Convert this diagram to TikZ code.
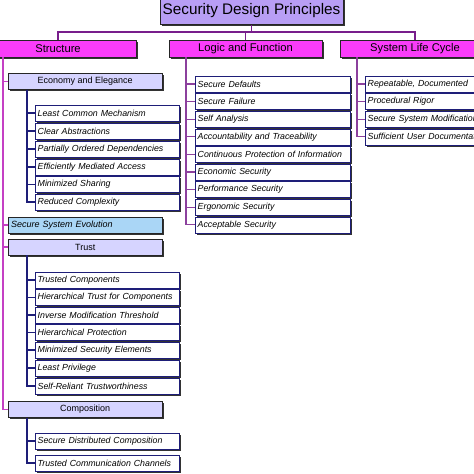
\documentclass[tikz,border=0pt]{standalone}
\usepackage{fontspec}
\setmainfont{Liberation Sans}
\usetikzlibrary{shadows}
\definecolor{titlefill}{RGB}{184,158,245}
\definecolor{groupfill}{RGB}{250,60,250}
\definecolor{subfill}{RGB}{214,212,255}
\definecolor{evofill}{RGB}{170,214,246}
\definecolor{busline}{RGB}{120,30,140}
\definecolor{trunkline}{RGB}{196,64,196}
\definecolor{subline}{RGB}{30,30,120}

\begin{document}
\begin{tikzpicture}[x=1pt,y=-1pt,
  shd/.style={drop shadow={shadow xshift=1.8pt,shadow yshift=-1.8pt,
    fill=black!80,opacity=1}},
  title/.style={draw=black!85,fill=titlefill,shd,minimum width=183pt,
    minimum height=27pt,inner sep=0pt,font=\fontsize{15.3}{17}\selectfont},
  group/.style={draw=black!85,fill=groupfill,shd,minimum height=17pt,
    inner sep=0pt,font=\fontsize{11.2}{13}\selectfont},
  sub/.style={draw=black!85,fill=subfill,shd,anchor=west,minimum width=154pt,
    minimum height=16pt,inner sep=0pt,font=\fontsize{9}{10}\selectfont},
  evo/.style={sub,fill=evofill,text width=148pt,inner xsep=3pt,align=left,
    font=\fontsize{9}{10}\selectfont\itshape},
  item/.style={draw=subline,fill=white,shd,anchor=west,minimum height=16pt,
    inner xsep=2.5pt,inner ysep=0pt,align=left,
    font=\fontsize{8.8}{10}\selectfont\itshape},
  bus/.style={draw=busline,line width=1.5pt},
  trunk/.style={draw=trunkline,line width=1.6pt},
  branch/.style={draw=busline!85,line width=1.3pt},
  leafline/.style={draw=subline,line width=1.1pt}]
\useasboundingbox (0,0) rectangle (474,474);
\clip (0,0) rectangle (474,474);

% top and groups
\node[title] (top) at (251.5,11) {Security Design Principles};
\node[group,minimum width=156pt] (struct) at (58,48.5) {Structure};
\node[group,minimum width=153pt] (logic) at (245.5,48.5) {Logic and Function};
\node[group,minimum width=150pt] (life) at (415,48.5) {System Life Cycle};
\coordinate (bus) at (0,32);
\draw[bus] (top.south) -- (top.south |- bus);
\draw[bus] (struct.north) |- (top.south |- bus);
\draw[bus] (life.north) |- (top.south |- bus);
\draw[bus] (logic.north) -- (logic.north |- bus);

% structure
\node[sub] (eco) at (8,81.5) {Economy and Elegance};
\node[evo,anchor=west] (evo) at (8,225) {Secure System Evolution};
\node[sub] (trust) at (8,247) {Trust};
\node[sub] (comp) at (8,409.5) {Composition};
\coordinate (sT) at (3,57);
\draw[trunk] (sT) |- (eco.west);
\draw[trunk] (sT) |- (evo.west);
\draw[trunk] (sT) |- (trust.west);
\draw[trunk] (sT) |- (comp.west);

\node[item,text width=139pt] (e1) at (35,113) {Least Common Mechanism};
\node[item,text width=139pt] (e2) at (35,131) {Clear Abstractions};
\node[item,text width=139pt] (e3) at (35,149) {Partially Ordered Dependencies};
\node[item,text width=139pt] (e4) at (35,167) {Efficiently Mediated Access};
\node[item,text width=139pt] (e5) at (35,184.5) {Minimized Sharing};
\node[item,text width=139pt] (e6) at (35,202) {Reduced Complexity};
\coordinate (ecoT) at (27,89.5);
\foreach \n in {e1,e2,e3,e4,e5,e6}
  \draw[leafline] (ecoT) |- (\n.west);

\node[item,text width=139pt] (t1) at (35,280) {Trusted Components};
\node[item,text width=139pt] (t2) at (35,297.5) {Hierarchical Trust for Components};
\node[item,text width=139pt] (t3) at (35,315) {Inverse Modification Threshold};
\node[item,text width=139pt] (t4) at (35,332.5) {Hierarchical Protection};
\node[item,text width=139pt] (t5) at (35,350) {Minimized Security Elements};
\node[item,text width=139pt] (t6) at (35,368) {Least Privilege};
\node[item,text width=139pt] (t7) at (35,386) {Self-Reliant Trustworthiness};
\coordinate (trustT) at (27,255);
\foreach \n in {t1,t2,t3,t4,t5,t6,t7}
  \draw[leafline] (trustT) |- (\n.west);

\node[item,text width=139pt] (c1) at (35,441) {Secure Distributed Composition};
\node[item,text width=139pt] (c2) at (35,463) {Trusted Communication Channels};
\coordinate (compT) at (27,417.5);
\foreach \n in {c1,c2}
  \draw[leafline] (compT) |- (\n.west);

% logic and function
\node[item,text width=150pt] (l1) at (195,84) {Secure Defaults};
\node[item,text width=150pt] (l2) at (195,101.6) {Secure Failure};
\node[item,text width=150pt] (l3) at (195,119.2) {Self Analysis};
\node[item,text width=150pt] (l4) at (195,136.8) {Accountability and Traceability};
\node[item,text width=150pt] (l5) at (195,154.4) {Continuous Protection of Information};
\node[item,text width=150pt] (l6) at (195,172) {Economic Security};
\node[item,text width=150pt] (l7) at (195,189.6) {Performance Security};
\node[item,text width=150pt] (l8) at (195,207.2) {Ergonomic Security};
\node[item,text width=150pt] (l9) at (195,224.8) {Acceptable Security};
\coordinate (logicT) at (186,57);
\foreach \n in {l1,l2,l3,l4,l5,l6,l7,l8,l9}
  \draw[branch] (logicT) |- (\n.west);

% system life cycle
\node[item,text width=135pt] (s1) at (365,84) {Repeatable, Documented};
\node[item,text width=135pt] (s2) at (365,101.6) {Procedural Rigor};
\node[item,text width=135pt] (s3) at (365,119.2) {Secure System Modification};
\node[item,text width=135pt] (s4) at (365,136.8) {Sufficient User Documentation};
\coordinate (lifeT) at (357,57);
\foreach \n in {s1,s2,s3,s4}
  \draw[branch] (lifeT) |- (\n.west);
\end{tikzpicture}
\end{document}
